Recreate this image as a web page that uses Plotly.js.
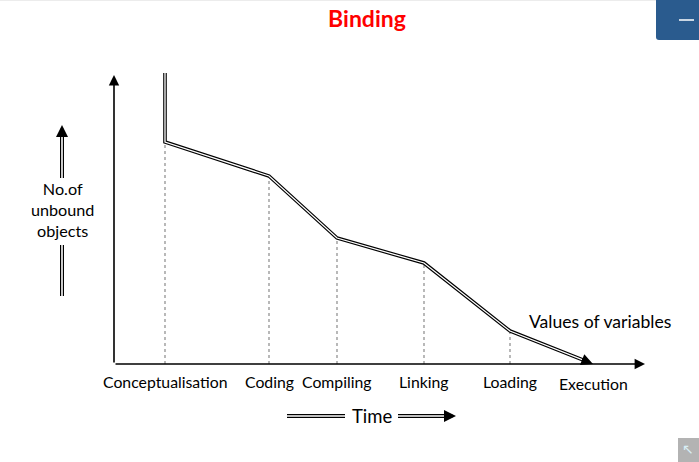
<!DOCTYPE html>
<html>
<head>
<meta charset="utf-8">
<script src="https://cdn.plot.ly/plotly-3.0.1.min.js"></script>
<style>html,body{margin:0;padding:0;background:#fff;}#chart{width:699px;height:462px;}</style>
</head>
<body>
<div id="chart"></div>
<script>
// ---- data ----
const stages = ['Conceptualisation', 'Coding', 'Compiling', 'Linking', 'Loading', 'Execution'];
const stageTime = [51, 155, 223, 310, 396, 479];
const unboundObjects = [222, 188, 126, 101, 33, 0];
const startLevel = 291;          // curve enters from the top at Conceptualisation
const xAxisEnd = 531;            // end of time axis
const yAxisEnd = 289;            // end of unbound-objects axis
const curveLabel = 'Values of variables';
const yLabelLines = ['No.of', 'unbound', 'objects'];
const xLabel = 'Time';

const FONT = 'Lato, "DejaVu Sans", sans-serif';

// curve path
const curveX = [stageTime[0]].concat(stageTime);
const curveY = [startLevel].concat(unboundObjects);

const traces = [];
// dashed drop lines (all stages except Execution)
for (let i = 0; i < stages.length - 1; i++) {
  traces.push({x: [stageTime[i], stageTime[i]], y: [0, unboundObjects[i]], mode: 'lines',
    line: {color: '#8a8a8a', width: 1.2, dash: '3px,3px'}, hoverinfo: 'skip', showlegend: false});
}
// double line: black outer + white inner
const n = curveX.length;
const trimX = curveX.slice(0, n - 1).concat([curveX[n-2] + (curveX[n-1]-curveX[n-2])*0.93]);
const trimY = curveY.slice(0, n - 1).concat([curveY[n-2] + (curveY[n-1]-curveY[n-2])*0.93]);
traces.push({x: trimX, y: trimY, mode: 'lines', line: {color: '#000', width: 3.6}, hoverinfo: 'skip', showlegend: false});
traces.push({x: trimX, y: trimY, mode: 'lines', line: {color: '#fff', width: 1.3}, hoverinfo: 'skip', showlegend: false});

// decorative double lines for axis titles
const yArrowX = -52;
const yLowSeg = [68, 119];
const yUpSeg = [186, 235];
const tLeftSeg = [173, 231];
const tRightSeg = [284, 336];
function dbl(xs, ys) {
  traces.push({x: xs, y: ys, mode: 'lines', line: {color: '#000', width: 4}, hoverinfo: 'skip', showlegend: false});
  traces.push({x: xs, y: ys, mode: 'lines', line: {color: '#fff', width: 1.6}, hoverinfo: 'skip', showlegend: false});
}
dbl([yArrowX, yArrowX], yLowSeg);
dbl([yArrowX, yArrowX], yUpSeg);
dbl(tLeftSeg, [-52, -52]);
dbl(tRightSeg, [-52, -52]);

const annotations = [];
// axes with arrows
annotations.push({x: 0, y: yAxisEnd, ax: 0, ay: 0, xref: 'x', yref: 'y', axref: 'x', ayref: 'y',
  showarrow: true, arrowhead: 2, arrowsize: 1.3, arrowwidth: 1.6, arrowcolor: '#000', text: ''});
annotations.push({x: xAxisEnd, y: 0, ax: 0, ay: 0, xref: 'x', yref: 'y', axref: 'x', ayref: 'y',
  showarrow: true, arrowhead: 2, arrowsize: 1.3, arrowwidth: 1.6, arrowcolor: '#000', text: ''});
// curve arrowhead
annotations.push({x: curveX[n-1], y: curveY[n-1],
  ax: curveX[n-2] + (curveX[n-1]-curveX[n-2])*0.85, ay: curveY[n-2] + (curveY[n-1]-curveY[n-2])*0.85,
  xref: 'x', yref: 'y', axref: 'x', ayref: 'y',
  showarrow: true, arrowhead: 2, arrowsize: 1.3, arrowwidth: 1.8, arrowcolor: '#000', text: ''});
// double arrowheads for decorations
annotations.push({x: yArrowX, y: yUpSeg[1] + 4, ax: yArrowX, ay: yUpSeg[1] - 6, xref: 'x', yref: 'y', axref: 'x', ayref: 'y',
  showarrow: true, arrowhead: 2, arrowsize: 1.0, arrowwidth: 2.4, arrowcolor: '#000', text: ''});
annotations.push({x: tRightSeg[1] + 6, y: -52, ax: tRightSeg[1] - 6, ay: -52, xref: 'x', yref: 'y', axref: 'x', ayref: 'y',
  showarrow: true, arrowhead: 2, arrowsize: 1.0, arrowwidth: 2.4, arrowcolor: '#000', text: ''});

// stage labels
stages.forEach((s, i) => {
  annotations.push({x: stageTime[i], y: i === stages.length - 1 ? -19 : -17, xref: 'x', yref: 'y',
    text: s, showarrow: false, xanchor: 'center', yanchor: 'middle',
    font: {family: FONT, size: 15.8, color: '#000'}});
});
annotations.push({x: 413, y: 43, xref: 'x', yref: 'y', text: curveLabel, showarrow: false,
  xanchor: 'left', yanchor: 'middle', font: {family: FONT, size: 17.6, color: '#000'}});
annotations.push({x: yArrowX, y: 155, xref: 'x', yref: 'y', text: yLabelLines.join('<br>'), showarrow: false,
  xanchor: 'center', yanchor: 'middle', font: {family: FONT, size: 16.2, color: '#000'}});
annotations.push({x: 258, y: -52, xref: 'x', yref: 'y', text: xLabel, showarrow: false,
  xanchor: 'center', yanchor: 'middle', font: {family: FONT, size: 18.5, color: '#000'}});
// navigation icon
annotations.push({x: 688/699, y: 1 - 449/462, xref: 'paper', yref: 'paper', text: '↖', showarrow: false,
  xanchor: 'center', yanchor: 'middle', font: {family: '"DejaVu Sans"', size: 14, color: '#d8eef5'}});

const layout = {
  width: 699, height: 462,
  margin: {l: 0, r: 0, t: 0, b: 0},
  paper_bgcolor: '#fff', plot_bgcolor: '#fff',
  showlegend: false,
  title: {text: '<b>Binding</b>', x: 367/699, xanchor: 'center', y: 1 - 19/462, yanchor: 'middle',
    yref: 'container', font: {family: FONT, size: 23, color: '#ff0000'}},
  xaxis: {range: [-114, 585], visible: false, fixedrange: true},
  yaxis: {range: [-98, 364], visible: false, fixedrange: true},
  annotations: annotations,
  shapes: [
    {type: 'line', xref: 'paper', yref: 'paper', x0: 0, x1: 1, y0: 1, y1: 1, line: {color: '#ececec', width: 2}},
    {type: 'path', xref: 'paper', yref: 'paper',
      path: 'M ' + (656/699) + ' 1 L 1 1 L 1 ' + (1-40/462) + ' L ' + (659/699) + ' ' + (1-40/462) +
            ' Q ' + (656/699) + ' ' + (1-40/462) + ' ' + (656/699) + ' ' + (1-37/462) + ' Z',
      fillcolor: '#2a5b8e', line: {width: 0}},
    {type: 'line', xref: 'paper', yref: 'paper', x0: 679/699, x1: 694/699, y0: 1-20/462, y1: 1-20/462,
      line: {color: '#ffffff', width: 1.5}},
    {type: 'rect', xref: 'paper', yref: 'paper', x0: 678/699, x1: 1, y0: 0, y1: 1-438/462,
      fillcolor: '#b3b3b3', line: {width: 0}}
  ]
};

Plotly.newPlot('chart', traces, layout, {displayModeBar: false, staticPlot: true});
</script>
</body>
</html>
